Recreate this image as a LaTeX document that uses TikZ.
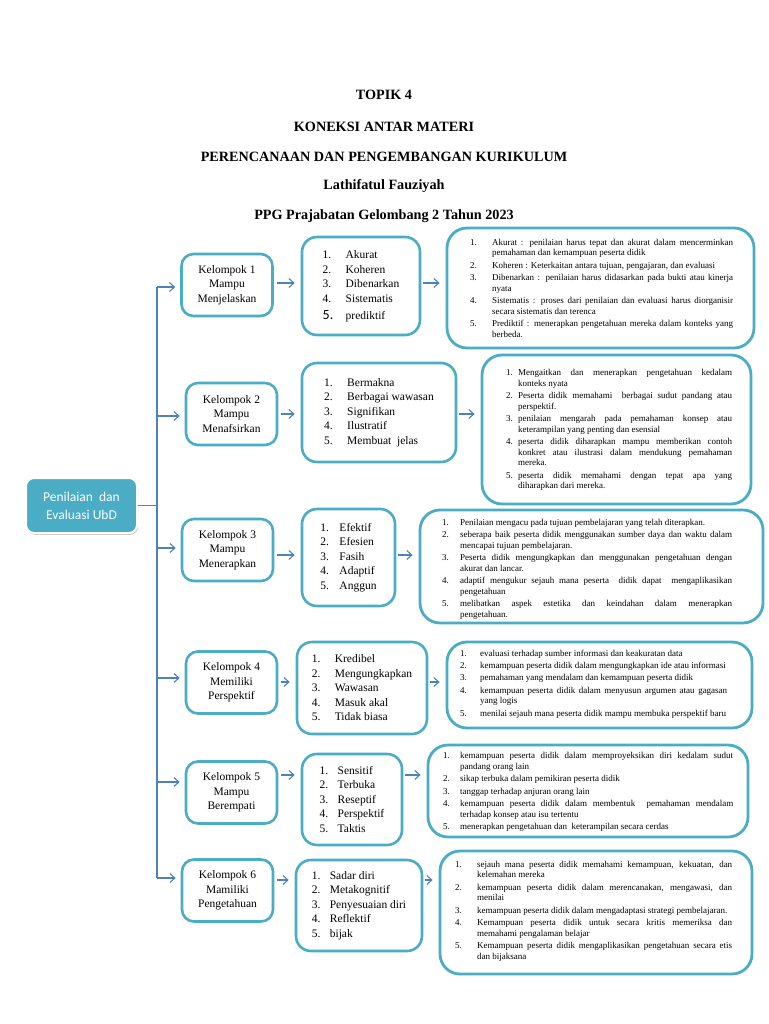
\documentclass[tikz,border=0pt]{standalone}
\usepackage{fontspec}
\setmainfont{Liberation Serif}
\newfontfamily\calib{Carlito}
\usetikzlibrary{arrows.meta,shadows}
\definecolor{tealx}{HTML}{4BACC6}
\definecolor{bluex}{HTML}{4F81BD}
\newlength\dind
\newcommand\ditem[2]{\par\hangindent=\dind\hangafter=1\noindent\makebox[\dind][l]{#1}#2}
\newcommand\nm[2]{\makebox[#1pt][l]{#2.}}
\newcommand\dfont{\fontsize{9}{10.8}\selectfont\setlength\parskip{1.4pt}}
\begin{document}
\begin{tikzpicture}[x=1pt,y=-1pt,
  kbox/.style={draw=tealx, line width=2.6pt, rounded corners=12pt, fill=white,
    minimum width=91pt, minimum height=62pt, align=center, inner sep=0pt,
    font=\fontsize{11.5}{14.5}\selectfont},
  lbox/.style={draw=tealx, line width=2.6pt, rounded corners=15pt, fill=white,
    align=left, inner sep=0pt, font=\fontsize{11.5}{14.5}\selectfont},
  dbox/.style={draw=tealx, line width=2.8pt, rounded corners=20pt, fill=white, inner sep=0pt},
  dtext/.style={inner sep=0pt, anchor=west},
  arr/.style={draw=bluex, line width=1.1pt, -{Straight Barb[length=5pt,width=9pt]}},
  ttl/.style={font=\fontsize{14.2}{16}\selectfont\bfseries, inner sep=0pt, anchor=base}
]
\useasboundingbox[fill=white] (0,0) rectangle (768,1024);

% titles
\node[ttl] (t1) at (384,99.7) {TOPIK 4};
\node[ttl] (t2) at (384,131.7) {KONEKSI ANTAR MATERI};
\node[ttl] (t3) at (384,161.7) {PERENCANAAN DAN PENGEMBANGAN KURIKULUM};
\node[ttl] (t4) at (384,189.7) {Lathifatul Fauziyah};
\node[ttl] (t5) at (384,219.7) {PPG Prajabatan Gelombang 2 Tahun 2023};

% root
\node[draw=white, line width=2pt, fill=tealx, rounded corners=8pt, minimum width=111pt,
  minimum height=55pt, text=white, align=center, inner sep=0pt,
  font=\calib\fontsize{13.5}{18}\selectfont,
  drop shadow={shadow xshift=1.2pt, shadow yshift=-1.8pt, opacity=0.35, fill=black!60}]
  (root) at (81.5,505.5) {Penilaian\ \ dan\\Evaluasi UbD};

% group boxes
\node[kbox] (K1) at (227,285) {Kelompok 1\\Mampu\\Menjelaskan};
\node[kbox] (K2) at (231.5,414) {Kelompok 2\\Mampu\\Menafsirkan};
\node[kbox] (K3) at (227.5,550) {Kelompok 3\\Mampu\\Menerapkan};
\node[kbox] (K4) at (231.5,682.5) {Kelompok 4\\Memiliki\\Perspektif};
\node[kbox] (K5) at (231.5,792.5) {Kelompok 5\\Mampu\\Berempati};
\node[kbox] (K6) at (227.5,890.5) {Kelompok 6\\Mamiliki\\Pengetahuan};

% list boxes
\node[lbox, minimum width=118pt, minimum height=98pt] (L1) at (361,286)
  {\nm{23}{1}Akurat\\ \nm{23}{2}Koheren\\ \nm{23}{3}Dibenarkan\\ \nm{23}{4}Sistematis\\[2.5pt]
   \makebox[23pt][l]{\calib\fontsize{14}{14}\selectfont 5.}prediktif};
\node[lbox, minimum width=154pt, minimum height=99pt] (L2) at (379,412.5)
  {\nm{23}{1}Bermakna\\ \nm{23}{2}Berbagai wawasan\\ \nm{23}{3}Signifikan\\ \nm{23}{4}Ilustratif\\ \nm{23}{5}Membuat\ \ jelas};
\node[lbox, minimum width=93pt, minimum height=97pt] (L3) at (348.5,557.5)
  {\nm{19}{1}Efektif\\ \nm{19}{2}Efesien\\ \nm{19}{3}Fasih\\ \nm{19}{4}Adaptif\\ \nm{19}{5}Anggun};
\node[lbox, minimum width=130pt, minimum height=92pt] (L4) at (362,688)
  {\nm{23}{1}Kredibel\\ \nm{23}{2}Mengungkapkan\\ \nm{23}{3}Wawasan\\ \nm{23}{4}Masuk akal\\ \nm{23}{5}Tidak biasa};
\node[lbox, minimum width=100pt, minimum height=91pt] (L5) at (352,799.5)
  {\nm{18}{1}Sensitif\\ \nm{18}{2}Terbuka\\ \nm{18}{3}Reseptif\\ \nm{18}{4}Perspektif\\ \nm{18}{5}Taktis};
\node[lbox, minimum width=126pt, minimum height=91pt] (L6) at (359,905.5)
  {\nm{18}{1}Sadar diri\\ \nm{18}{2}Metakognitif\\ \nm{18}{3}Penyesuaian diri\\ \nm{18}{4}Reflektif\\ \nm{18}{5}bijak};

% detail boxes
\node[dbox, minimum width=307pt, minimum height=120pt] (D1) at (600.5,288) {};
\node[dbox, minimum width=269pt, minimum height=149pt] (D2) at (616.5,429.5) {};
\node[dbox, minimum width=343pt, minimum height=113pt] (D3) at (591.5,566.5) {};
\node[dbox, minimum width=305pt, minimum height=86pt] (D4) at (599.5,685) {};
\node[dbox, minimum width=320pt, minimum height=92pt] (D5) at (588,791) {};
\node[dbox, minimum width=312pt, minimum height=123pt] (D6) at (596,912.5) {};

\node[dtext] (D1t) at (470,288) {\begin{minipage}{263pt}\dfont\setlength\dind{22pt}%
\ditem{1.}{Akurat : penilaian harus tepat dan akurat dalam mencerminkan\linebreak pemahaman dan kemampuan peserta didik}
\ditem{2.}{Koheren : Keterkaitan antara tujuan, pengajaran, dan evaluasi}
\ditem{3.}{Dibenarkan : penilaian harus didasarkan pada bukti atau kinerja\linebreak nyata}
\ditem{4.}{Sistematis : proses dari penilaian dan evaluasi harus diorganisir\linebreak secara sistematis dan terenca}
\ditem{5.}{Prediktif : menerapkan pengetahuan mereka dalam konteks yang\linebreak berbeda.}
\end{minipage}};

\node[dtext] (D2t) at (506,430) {\begin{minipage}{226pt}\dfont\setlength\dind{12pt}%
\ditem{1.}{Mengaitkan dan menerapkan pengetahuan kedalam\linebreak konteks nyata}
\ditem{2.}{Peserta didik memahami\ \ berbagai sudut pandang atau\linebreak perspektif.}
\ditem{3.}{penilaian mengarah pada pemahaman konsep atau\linebreak keterampilan yang penting dan esensial}
\ditem{4.}{peserta didik diharapkan mampu memberikan contoh\linebreak konkret atau ilustrasi dalam mendukung pemahaman\linebreak mereka.}
\ditem{5.}{peserta didik memahami dengan tepat apa yang\linebreak diharapkan dari mereka.}
\end{minipage}};

\node[dtext] (D3t) at (442,569) {\begin{minipage}{290pt}\dfont\setlength\dind{18pt}%
\ditem{1.}{Penilaian mengacu pada tujuan pembelajaran yang telah diterapkan.}
\ditem{2.}{seberapa baik peserta didik menggunakan sumber daya dan waktu dalam\linebreak mencapai tujuan pembelajaran.}
\ditem{3.}{Peserta didik mengungkapkan dan menggunakan pengetahuan dengan\linebreak akurat dan lancar.}
\ditem{4.}{adaptif mengukur sejauh mana peserta\ \ didik dapat\ \ mengaplikasikan\linebreak pengetahuan}
\ditem{5.}{melibatkan aspek estetika dan keindahan dalam menerapkan\linebreak pengetahuan.}
\end{minipage}};

\node[dtext] (D4t) at (460,684) {\begin{minipage}{267pt}\dfont\setlength\dind{20pt}%
\ditem{1.}{evaluasi terhadap sumber informasi dan keakuratan data}
\ditem{2.}{kemampuan peserta didik dalam mengungkapkan ide atau informasi}
\ditem{3.}{pemahaman yang mendalam dan kemampuan peserta didik}
\ditem{4.}{kemampuan peserta didik dalam menyusun argumen atau gagasan\linebreak yang logis}
\ditem{5.}{menilai sejauh mana peserta didik mampu membuka perspektif baru}
\end{minipage}};

\node[dtext] (D5t) at (443,792) {\begin{minipage}{290pt}\dfont\setlength\dind{17pt}%
\ditem{1.}{kemampuan peserta didik dalam memproyeksikan diri kedalam sudut\linebreak pandang orang lain}
\ditem{2.}{sikap terbuka dalam pemikiran peserta didik}
\ditem{3.}{tanggap terhadap anjuran orang lain}
\ditem{4.}{kemampuan peserta didik dalam membentuk\ \ pemahaman mendalam\linebreak terhadap konsep atau isu tertentu}
\ditem{5.}{menerapkan pengetahuan dan\ \ keterampilan secara cerdas}
\end{minipage}};

\node[dtext] (D6t) at (455,911) {\begin{minipage}{277pt}\dfont\setlength\dind{22pt}%
\ditem{1.}{sejauh mana peserta didik memahami kemampuan, kekuatan, dan\linebreak kelemahan mereka}
\ditem{2.}{kemampuan peserta didik dalam merencanakan, mengawasi, dan\linebreak menilai}
\ditem{3.}{kemampuan peserta didik dalam mengadaptasi strategi pembelajaran.}
\ditem{4.}{Kemampuan peserta didik untuk secara kritis memeriksa dan\linebreak memahami pengalaman belajar}
\ditem{5.}{Kemampuan peserta didik mengaplikasikan pengetahuan secara etis\linebreak dan bijaksana}
\end{minipage}};

% trunk
\coordinate (ttop) at (157,287);
\coordinate (tbot) at (157,878);
\coordinate (tj) at (157,503);
\draw[bluex, line width=1.3pt] (ttop) -- (tbot);
\draw[bluex, line width=1.1pt] (root.east) -- (root.east -| tj);

\coordinate (a1) at (157,287);
\coordinate (a2) at (157,416);
\coordinate (a3) at (157,548);
\coordinate (a4) at (157,678);
\coordinate (a5) at (157,782);
\coordinate (a6) at (157,878);
\foreach \i in {1,...,6}{
  \draw[arr, shorten >=5pt] (a\i) -- (a\i -| K\i.west);
}

\coordinate (r1) at (0,283);
\coordinate (r2) at (0,414);
\coordinate (r3) at (0,555);
\coordinate (r4) at (0,682);
\coordinate (r5) at (0,775);
\coordinate (r6) at (0,880);
\foreach \i in {1,...,6}{
  \draw[arr, shorten <=3pt, shorten >=6pt] (K\i.east |- r\i) -- (L\i.west |- r\i);
  \draw[arr, shorten <=2pt, shorten >=6pt] (L\i.east |- r\i) -- (D\i.west |- r\i);
}
\end{tikzpicture}
\end{document}
